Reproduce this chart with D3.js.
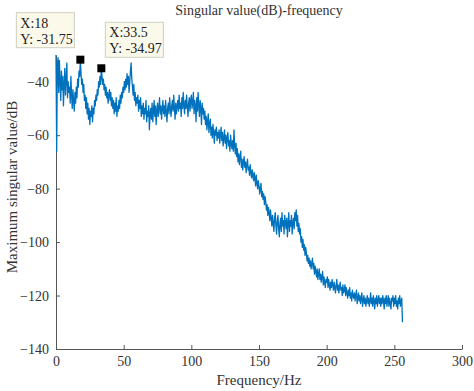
<!DOCTYPE html>
<html>
<head>
<meta charset="utf-8">
<script src="https://cdn.jsdelivr.net/npm/d3@7"></script>
<style>
  body { margin: 0; background: #fff; }
  text { font-family: "Liberation Serif", "DejaVu Serif", serif; fill: #333; }
  .axis path, .axis line { stroke: #555; }
  .axis text { font-size: 14px; fill: #333; }
</style>
</head>
<body>
<svg id="chart"></svg>
<script>
// frequency step of the spectrum (Hz)
const freqStep = 0.5;
const singularDb = [
  -30, -66, -34, -31, -44, -32, -40, -47, -36, -43, -38, -49, -41, -35, -45, -39, -33, -46, -40, -44,
  -42, -48, -38, -45, -50, -43, -47, -51, -44, -48, -42, -46, -39, -42, -36, -38, -31.75, -37, -41, -39,
  -44, -41, -47, -45, -50, -46, -52, -48, -54, -50, -56, -51, -53, -49, -55, -50, -52, -47, -49, -45,
  -47, -43, -45, -40, -42, -38, -41, -34.97, -38, -41, -39, -43, -41, -45, -42, -46, -44, -48, -45, -43,
  -47, -44, -49, -46, -50, -47, -52, -48, -51, -46, -53, -49, -51, -47, -50, -45, -48, -44, -46, -42,
  -44, -40, -43, -39, -42, -37, -41, -38, -44, -40, -36, -33, -39, -42, -45, -41, -47, -44, -49, -46,
  -48, -45, -51, -47, -50, -46, -53, -49, -52, -48, -54, -50, -52, -47, -55, -51, -53, -49, -58, -52,
  -50, -54, -48, -55, -51, -47, -53, -49, -56, -51, -48, -53, -50, -46, -52, -49, -54, -50, -47, -52,
  -49, -53, -47, -51, -55, -50, -48, -52, -46, -50, -53, -49, -47, -51, -45, -50, -54, -48, -52, -49,
  -47, -51, -45, -50, -48, -53, -46, -50, -44, -49, -52, -47, -50, -45, -49, -53, -48, -46, -51, -47,
  -45, -50, -48, -44, -52, -47, -49, -55, -46, -51, -44, -49, -53, -47, -50, -56, -48, -52, -50, -54,
  -51, -56, -53, -58, -55, -52, -59, -56, -54, -60, -57, -61, -56, -59, -63, -58, -60, -57, -62, -59,
  -61, -58, -63, -60, -57, -62, -59, -64, -61, -58, -63, -60, -65, -61, -59, -64, -62, -66, -60, -63,
  -65, -62, -66, -58, -64, -67, -63, -68, -65, -70, -67, -71, -68, -66, -72, -69, -73, -70, -68, -72,
  -70, -74, -71, -69, -73, -72, -75, -71, -74, -76, -73, -75, -77, -74, -76, -79, -75, -78, -80, -77,
  -79, -82, -80, -78, -83, -81, -84, -82, -86, -83, -85, -88, -86, -90, -87, -89, -92, -88, -91, -94,
  -90, -93, -96, -91, -89, -94, -97, -92, -90, -95, -98, -93, -91, -96, -89, -94, -92, -97, -90, -93,
  -95, -91, -98, -93, -89, -96, -92, -94, -90, -97, -93, -91, -95, -89, -92, -88, -94, -90, -96, -93,
  -97, -95, -100, -98, -102, -99, -103, -101, -105, -102, -104, -107, -105, -108, -106, -109, -107, -110, -108, -106,
  -110, -108, -112, -109, -111, -113, -110, -114, -112, -110, -114, -112, -115, -113, -111, -116, -113, -115, -117, -114,
  -115, -113, -117, -114, -116, -118, -115, -117, -114, -116, -118, -115, -117, -119, -116, -114, -118, -116, -119, -117,
  -115, -118, -117, -120, -116, -119, -118, -116, -120, -117, -119, -121, -118, -120, -117, -121, -119, -122, -118, -120,
  -121, -119, -122, -120, -118, -123, -121, -119, -122, -120, -123, -121, -119, -124, -122, -120, -123, -121, -124, -122,
  -120, -123, -121, -124, -122, -119, -123, -121, -124, -120, -122, -125, -121, -123, -120, -124, -122, -120, -123, -121,
  -124, -121, -123, -120, -122, -125, -121, -123, -120, -124, -122, -120, -124, -121, -123, -125, -121, -122, -120, -124,
  -121, -123, -120, -124, -122, -125, -121, -123, -120, -124, -122, -121, -130
];

// data tips
const tipX = [18, 33.5];
const tipY = [-31.75, -34.97];

const xTicks = [0, 50, 100, 150, 200, 250, 300];
const yTicks = [-140, -120, -100, -80, -60, -40];

const W = 474, H = 391;
const margin = {top: 55, right: 12, bottom: 42, left: 56};
const width = W - margin.left - margin.right,
      height = H - margin.top - margin.bottom;

const svg = d3.select("#chart")
    .attr("width", W)
    .attr("height", H);

const g = svg.append("g")
    .attr("transform", `translate(${margin.left},${margin.top})`);

const x = d3.scaleLinear().domain([0, 300]).range([0, width]);
const y = d3.scaleLinear().domain([-140, -30]).range([height, 0]);

const data = singularDb.map((v, i) => ({f: i * freqStep, v: v}));

// axes (MATLAB style: ticks pointing inward, no box)
g.append("g")
    .attr("class", "axis")
    .attr("transform", `translate(0,${height})`)
    .call(d3.axisBottom(x).tickValues(xTicks).tickSizeInner(-4).tickSizeOuter(0).tickPadding(7));

g.append("g")
    .attr("class", "axis")
    .call(d3.axisLeft(y).tickValues(yTicks).tickSizeInner(-4).tickSizeOuter(0).tickPadding(7));

// spectrum line
const line = d3.line()
    .x(d => x(d.f))
    .y(d => y(d.v));

g.append("path")
    .datum(data)
    .attr("fill", "none")
    .attr("stroke", "#0072BD")
    .attr("stroke-width", 1.3)
    .attr("stroke-linejoin", "round")
    .attr("d", line);

// data tip markers + boxes
const tipBox = [{dx: -64, dy: -47}, {dx: 4, dy: -46}];

tipX.forEach((fx, i) => {
    const px = x(fx), py = y(tipY[i]);
    g.append("rect")
        .attr("x", px - 4).attr("y", py - 4)
        .attr("width", 8).attr("height", 8)
        .attr("fill", "#000");

    const bx = px + tipBox[i].dx, by = py + tipBox[i].dy;
    const tip = g.append("g").attr("transform", `translate(${bx},${by})`);
    tip.append("rect")
        .attr("width", 58).attr("height", 35)
        .attr("fill", "#fbf9ea")
        .attr("stroke", "#cfcfc4")
        .attr("stroke-width", 1);
    tip.append("text")
        .attr("x", 4).attr("y", 15)
        .style("font-size", "14px")
        .style("fill", "#222")
        .text("X:" + fx);
    tip.append("text")
        .attr("x", 4).attr("y", 31)
        .style("font-size", "14px")
        .style("fill", "#222")
        .text("Y: " + tipY[i]);
});

// title and axis titles
svg.append("text")
    .attr("x", margin.left + width / 2)
    .attr("y", 15)
    .attr("text-anchor", "middle")
    .style("font-size", "14px")
    .text("Singular value(dB)-frequency");

svg.append("text")
    .attr("x", margin.left + width / 2)
    .attr("y", 385)
    .attr("text-anchor", "middle")
    .style("font-size", "15px")
    .text("Frequency/Hz");

svg.append("text")
    .attr("transform", `translate(17,${187}) rotate(-90)`)
    .attr("text-anchor", "middle")
    .style("font-size", "15px")
    .text("Maximum singular value/dB");
</script>
</body>
</html>
